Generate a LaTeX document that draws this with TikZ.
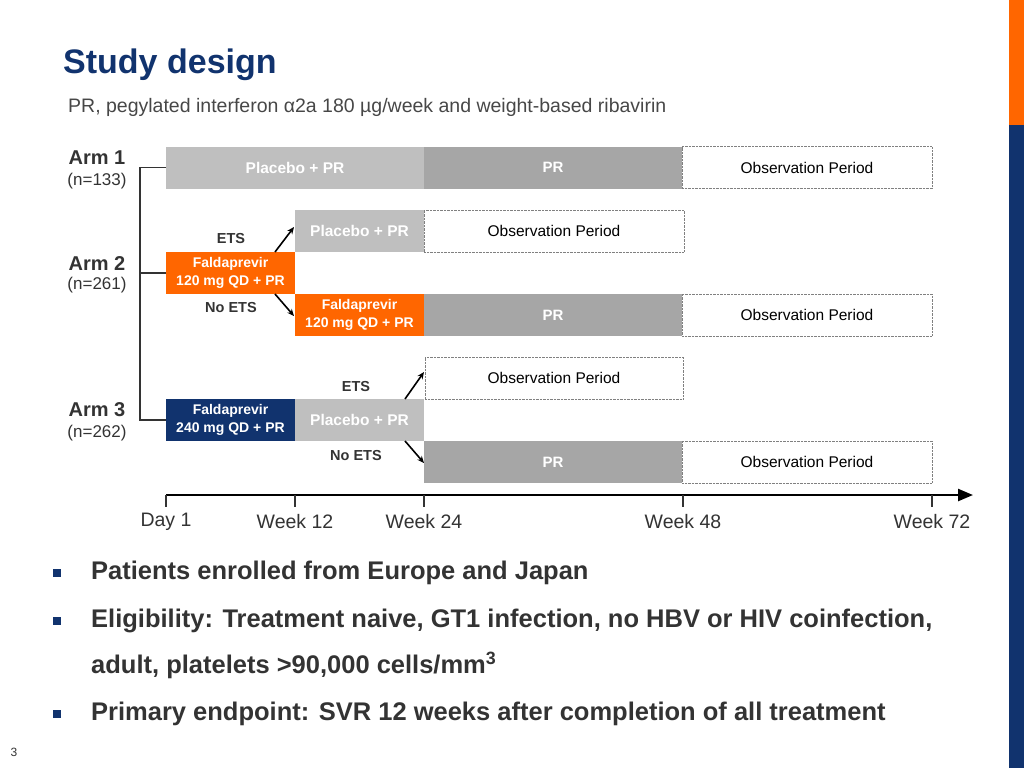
\documentclass[tikz,border=0pt]{standalone}
\usepackage{fontspec}
\setmainfont{Liberation Sans}
\usepackage{tikz}
\usetikzlibrary{calc,arrows.meta}

\definecolor{navy}{HTML}{11336E}
\definecolor{orng}{HTML}{FF6600}
\definecolor{lgray}{HTML}{BFBFBF}
\definecolor{dgray}{HTML}{A6A6A6}
\definecolor{ink}{HTML}{333333}

\begin{document}
\begin{tikzpicture}[x=1pt,y=-1pt,
	bar/.style={minimum height=42, inner sep=0, outer sep=0, align=center,
		text=white, font=\fontsize{14}{18.5}\selectfont\bfseries},
	plc/.style={bar, fill=lgray, font=\fontsize{15.5}{18}\selectfont\bfseries},
	prbar/.style={bar, fill=dgray, font=\fontsize{15}{18}\selectfont\bfseries},
	fal/.style={bar, fill=orng},
	falhi/.style={bar, fill=navy},
	obs/.style={bar, draw=gray, densely dotted, fill=white, text=black,
		font=\fontsize{15.5}{18}\selectfont},
	armlab/.style={text=ink, font=\fontsize{20}{22}\selectfont\bfseries},
	armn/.style={text=ink, font=\fontsize{17}{19}\selectfont},
	ets/.style={text=ink, font=\fontsize{14.5}{16}\selectfont\bfseries},
	week/.style={text=ink, font=\fontsize{19.5}{21}\selectfont},
	branch/.style={-{Stealth[length=7pt,width=6pt]}, line width=1.6pt},
	bullet/.style={fill=navy, minimum size=8, inner sep=0},
	point/.style={anchor=west, inner sep=0, text=ink,
		font=\fontsize{25.5}{27}\selectfont\bfseries},
]

% parameters %{{{2

	\def\axisy{495}

% frame %{{{2

	\useasboundingbox (0,0) rectangle (1024,768);
	\fill[orng] (1009,0) rectangle (1024,125);
	\fill[navy] (1009,125) rectangle (1024,768);

% title %{{{2

	\node[anchor=west, inner sep=0, text=navy, font=\fontsize{34}{36}\selectfont\bfseries]
		(title) at (63,65) {Study design};
	\node[anchor=west, inner sep=0, text=ink!90, font=\fontsize{19.5}{21}\selectfont]
		(subtitle) at (68,107) {PR, pegylated interferon α2a 180 µg/week and weight-based ribavirin};

% arm 1 %{{{2

	\node[plc, minimum width=258] (a1plc) at (295,167.5) {Placebo + PR};
	\node[prbar, minimum width=258] (a1pr) at (553,167.5) {PR};
	\node[obs, minimum width=250] (a1obs) at (807,167.5) {Observation Period};

% arm 2 %{{{2

	\node[fal, minimum width=129] (a2fal) at (230.5,273) {Faldaprevir\\120 mg QD + PR};

	\node[plc, minimum width=129] (a2plc) at (359.5,231) {Placebo + PR};
	\node[obs, minimum width=260] (a2obs) at (554,231) {Observation Period};

	\node[fal, minimum width=129] (a2nofal) at (359.5,315) {Faldaprevir\\120 mg QD + PR};
	\node[prbar, minimum width=258] (a2nopr) at (553,315) {PR};
	\node[obs, minimum width=250] (a2noobs) at (807,315) {Observation Period};

% arm 3 %{{{2

	\node[falhi, minimum width=129] (a3fal) at (230.5,420) {Faldaprevir\\240 mg QD + PR};
	\node[plc, minimum width=129] (a3plc) at (359.5,420) {Placebo + PR};

	\node[obs, minimum width=258] (a3obs) at (554,378) {Observation Period};

	\node[prbar, minimum width=258] (a3nopr) at (553,462) {PR};
	\node[obs, minimum width=250] (a3noobs) at (807,462) {Observation Period};

% arm labels %{{{2

	\node[armlab] (arm1) at (97,158) {Arm 1};
	\node[armn] (n1) at (97,181) {(n=133)};
	\node[armlab] (arm2) at (97,264) {Arm 2};
	\node[armn] (n2) at (97,285) {(n=261)};
	\node[armlab] (arm3) at (97,410) {Arm 3};
	\node[armn] (n3) at (97,433) {(n=262)};

% bracket %{{{2

	\draw[ink, line width=1.6pt] (a1plc.west) -- ++(-26,0) |- (a3fal.west);
	\draw[ink, line width=1.6pt] (a2fal.west) -- ++(-26,0);

% branches %{{{2

	\draw[branch] ($(a2fal.north east)+(-20,0)$) -- ($(a2plc.west)+(-1,-4)$);
	\draw[branch] ($(a2fal.south east)+(-20,0)$) -- ($(a2nofal.west)+(-1,1)$);
	\draw[branch] ($(a3plc.north east)+(-19,0)$) -- ($(a3obs.west)+(-1,-6)$);
	\draw[branch] ($(a3plc.south east)+(-19,0)$) -- ($(a3nopr.west)+(0,1)$);

	\node[ets] (ets2) at (231,239) {ETS};
	\node[ets] (noets2) at (231,308) {No ETS};
	\node[ets] (ets3) at (356,387) {ETS};
	\node[ets] (noets3) at (356,456) {No ETS};

% time axis %{{{2

	\coordinate (t0) at (166,\axisy);
	\coordinate (tend) at (973,\axisy);
	\draw[line width=2.4pt, -{Triangle[length=15pt,width=12pt]}] (t0) -- (tend);
	\foreach \x/\lab in {166/Day 1, 295/Week 12, 424/Week 24, 683/Week 48, 932/Week 72} {
		\coordinate (tk\x) at (\x,\axisy);
		\draw[ink, line width=2.6pt] (tk\x) -- ++(0,12);
		\node[week] (lab\x) at ($(tk\x)+(0,27)$) {\lab};
	}

% bullets %{{{2

	\node[bullet] (b1) at (57,573) {};
	\node[point] (p1) at (91,573) {Patients enrolled from Europe and Japan};
	\node[bullet] (b2) at (57,621) {};
	\node[point] (p2) at (91,621) {Eligibility: Treatment naive, GT1 infection, no HBV or HIV coinfection,};
	\node[point] (p2b) at (91,665) {adult, platelets >90,000 cells/mm\textsuperscript{3}};
	\node[bullet] (b3) at (57,714) {};
	\node[point] (p3) at (91,714) {Primary endpoint: SVR 12 weeks after completion of all treatment};

% page number %{{{2

	\node[text=ink, font=\fontsize{12}{14}\selectfont] (page) at (14,752) {3};

\end{tikzpicture}
\end{document}
